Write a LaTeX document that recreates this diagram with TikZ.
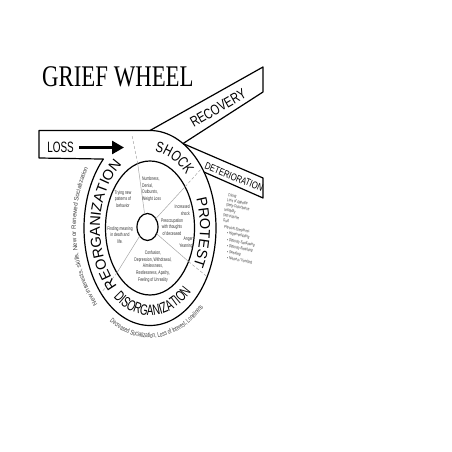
\documentclass[tikz,border=0pt]{standalone}
\usepackage{fontspec}
\usepackage{tikz}
\usetikzlibrary{calc,arrows.meta,decorations.text}
\newfontfamily\plainsans{Liberation Sans}
\newfontfamily\narrowsans[FakeStretch=0.66]{Liberation Sans}
\newfontfamily\bandsans[FakeStretch=0.76]{Liberation Sans}
\newfontfamily\titlefont[FakeStretch=0.76]{Liberation Serif}

\begin{document}
\begin{tikzpicture}[x=1pt,y=1pt,
  outline/.style={draw=black,line width=1.2pt,line join=round},
  divider/.style={draw=gray!70,line width=0.5pt},
  ringdash/.style={draw=gray!70,line width=0.5pt,dash pattern=on 3pt off 2pt},
  tinytext/.style={font=\narrowsans\fontsize{5.2}{6.6}\selectfont,text=black!80,inner sep=0pt},
  listtext/.style={font=\narrowsans\fontsize{4.4}{5}\selectfont,text=black!75,inner sep=0pt,anchor=west,rotate=-11}]
\useasboundingbox (0,0) rectangle (452,452);
\coordinate (wheel) at (150,224);
\coordinate (hub) at (147.5,225);

\node[font=\titlefont\fontsize{30}{30}\selectfont,anchor=base west,inner sep=0pt] (title) at (42,365) {GRIEF WHEEL};

% loss band running into the outer ring
\draw[outline] (39,294) -- (39,321.5) -- (150,321.5)
  arc[start angle=90,end angle=-225,x radius=66,y radius=97.5] -- cycle;
\draw[outline] (wheel) ellipse[x radius=44.5,y radius=67];
\draw[outline] (hub) ellipse[x radius=10.5,y radius=13.5];

% side bands
\draw[outline] (150,321.5) -- (263,385) -- (263,360) -- ($(wheel)+(60:66 and 97.5)$);
\draw[outline] ($(wheel)+(60:66 and 97.5)$) -- (263,274) -- (263,254) -- ($(wheel)+(35:66 and 97.5)$);

\node[font=\bandsans\fontsize{14.5}{14.5}\selectfont,rotate=30,inner sep=0pt] (recovery) at (218,344) {RECOVERY};
\node[font=\bandsans\fontsize{10}{10}\selectfont,rotate=-22,inner sep=0pt] (deterioration) at (234,275) {DETERIORATION};

\node[font=\narrowsans\fontsize{15}{15}\selectfont,inner sep=0pt] (loss) at (60.5,304.5) {LOSS};
\coordinate (losstip) at (124,304.5);
\draw[line width=2.6pt,-{Triangle[length=12pt,width=13pt]}] ([xshift=5pt]loss.east) -- (losstip);

\foreach \ang in {106,38,-30,222}
{ \draw[divider] ($(hub)+(\ang:10.5 and 13.5)$) -- ($(wheel)+(\ang:44.5 and 67)$);
  \draw[ringdash] ($(wheel)+(\ang:44.5 and 67)$) -- ($(wheel)+(\ang:66 and 97.5)$);}

% ring labels
\path[decorate,decoration={text along path,text align=center,
  text={|\bandsans\fontsize{15}{15}\selectfont|SHOCK}}]
  ($(wheel)+(107:50 and 76.5)$) arc[start angle=107,end angle=27,x radius=50,y radius=76.5];
\path[decorate,decoration={text along path,text align=center,
  text={|\plainsans\fontsize{14.5}{14.5}\selectfont|PROTEST}}]
  ($(wheel)+(36:50 and 76.5)$) arc[start angle=36,end angle=-44,x radius=50,y radius=76.5];
\path[decorate,decoration={text along path,text align=center,
  text={|\plainsans\fontsize{14.5}{14.5}\selectfont|REORGANIZATION}}]
  ($(wheel)+(250:50 and 76.5)$) arc[start angle=250,end angle=102,x radius=50,y radius=76.5];
\path[decorate,decoration={text along path,text align=center,
  text={|\narrowsans\fontsize{15}{15}\selectfont|DISORGANIZATION}}]
  ($(wheel)+(-165:60 and 87.5)$) arc[start angle=-165,end angle=-10,x radius=60,y radius=87.5];

\path[decorate,decoration={text along path,text align=center,
  text={|\narrowsans\fontsize{7}{7}\selectfont\color{black!75}|Decreased Socialization, Loss of Interest, Loneliness}}]
  ($(wheel)+(-144:77 and 110)$) arc[start angle=-144,end angle=-25,x radius=77,y radius=110];
\path[decorate,decoration={text along path,text align=center,
  text={|\plainsans\fontsize{6.2}{6.2}\selectfont\color{black!75}|New interests, skills, New or Renewed Socialization}}]
  ($(wheel)+(231:74 and 108)$) arc[start angle=231,end angle=141,x radius=74,y radius=108];

% inner ring
\node[tinytext,align=left,anchor=west] (shocktxt) at (142,263) {Numbness,\\Denial,\\Outbursts,\\Weight Loss};
\node[tinytext,align=center] (trytxt) at (123,253) {Trying new\\patterns of\\behavior};
\node[tinytext,align=center] (meaningtxt) at (120,217) {Finding meaning\\in death and\\life.};
\node[tinytext,align=right,anchor=east] (protesttxt) at (190,242) {Increased\\shock};
\node[tinytext,align=center] (preoccupation) at (172,225) {Preoccupation\\with thoughts\\of deceased};
\node[tinytext,align=right,anchor=east] (angertxt) at (193,209) {Anger\\Yearning};
\node[tinytext,align=center] (disorgtxt) at (153,185.5) {Confusion,\\Depression, Withdrawal,\\Aimlessness,\\Restlessness, Apathy,\\Feeling of Unreality};

% symptoms beside the deterioration band
\foreach \sym/\px/\py in {Crying/228/195,{Loss of Appetite}/227/200,{Sleep Disturbance}/226/205,
  Irritability/224/210,Self-criticism/223/215,Guilt/223/220,{Physical Symptoms:}/224/227,
  {• Hyperventilating}/227/233,{• Difficulty Swallowing}/227/240,{• Difficulty Breathing}/227/246,
  {• Sweating}/227/252,{• Nausea / Vomiting}/227/258}
{ \node[listtext] (sym\py) at (\px,452-\py) {\sym};}
\end{tikzpicture}
\end{document}
